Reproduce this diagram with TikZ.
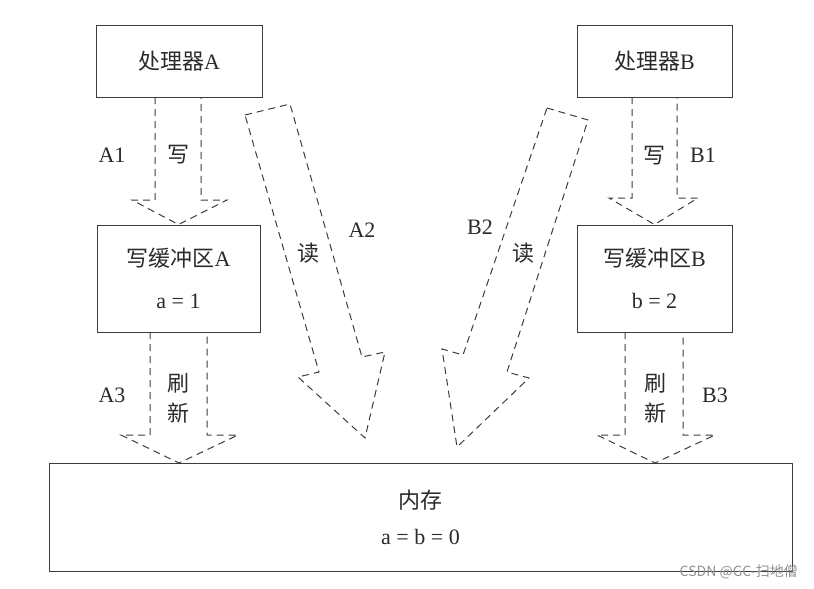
\documentclass[tikz,border=0pt]{standalone}
\usepackage{fontspec}
\setmainfont{Liberation Serif}
\newfontfamily\cjk{Noto Sans CJK SC}
\usetikzlibrary{positioning}
\definecolor{linegray}{HTML}{3C3C3C}
\definecolor{textgray}{HTML}{2A2A2A}
\definecolor{markgray}{HTML}{909090}

\begin{document}
\begin{tikzpicture}[x=1pt, y=-1pt,
  box/.style={draw=linegray, line width=0.9pt, text=textgray, align=center,
    font=\fontsize{22}{26}\selectfont, inner sep=0pt},
  flow/.style={draw=linegray, line width=1pt, dash pattern=on 7pt off 5pt},
  lbl/.style={text=textgray, font=\fontsize{22}{26}\selectfont, inner sep=0pt}]
  \useasboundingbox (0,0) rectangle (814,589);

  % processors
  \node[box, minimum width=166pt, minimum height=72pt] (procA) at (179,61) {{\cjk 处理器}A};
  \node[box, minimum width=155pt, minimum height=72pt] (procB) at (654.5,61) {{\cjk 处理器}B};

  % write buffers
  \node[box, minimum width=163pt, minimum height=107pt] (bufA) at (178.5,278.5)
    {{\cjk 写缓冲区}A\\[16pt]a = 1};
  \node[box, minimum width=155pt, minimum height=107pt] (bufB) at (654.5,278.5)
    {{\cjk 写缓冲区}B\\[16pt]b = 2};

  % memory
  \node[box, minimum width=743pt, minimum height=108pt] (mem) at (420.5,517)
    {{\cjk 内存}\\[10pt]a = b = 0};

  % write arrows
  \draw[flow] (155,97) -- (155,200) -- (132,200) -- (bufA.north) -- (227,200) -- (201,200) -- (201,97);
  \draw[flow] (632,97) -- (632,198) -- (609,198) -- (bufB.north) -- (698,198) -- (677,198) -- (677,97);

  % flush arrows
  \draw[flow] (150,332) -- (150,435) -- (121,435) -- (179,463) -- (238,435) -- (207,435) -- (207,332);
  \draw[flow] (625,332) -- (625,435) -- (597,435) -- (655,463) -- (715,435) -- (683,435) -- (683,332);

  % read arrows
  \draw[flow] (245,115) -- (290,104) -- (362,357) -- (385,352) -- (365,438) -- (298,377) -- (319,372) -- cycle;
  \draw[flow] (547,108) -- (588,120) -- (507,372) -- (529,378) -- (457,447) -- (442,349) -- (463,355) -- cycle;

  % labels
  \node[lbl] (lA1) at (112,155) {A1};
  \node[lbl] (wA) at (178,155) {\cjk 写};
  \node[lbl] (wB) at (654,156) {\cjk 写};
  \node[lbl] (lB1) at (703,155) {B1};
  \node[lbl] (lA2) at (362,230) {A2};
  \node[lbl] (rA) at (308,253) {\cjk 读};
  \node[lbl] (lB2) at (480,227) {B2};
  \node[lbl] (rB) at (523,253) {\cjk 读};
  \node[lbl] (lA3) at (112,395) {A3};
  \node[lbl, align=center] (fA) at (178,398) {\cjk 刷\\[4pt]\cjk 新};
  \node[lbl, align=center] (fB) at (655,398) {\cjk 刷\\[4pt]\cjk 新};
  \node[lbl] (lB3) at (715,395) {B3};

  % watermark
  \node[text=markgray, font=\cjk\fontsize{14}{16}\selectfont, inner sep=0pt, anchor=east]
    (mark) at (798,572) {CSDN @GC-扫地僧};
\end{tikzpicture}
\end{document}
